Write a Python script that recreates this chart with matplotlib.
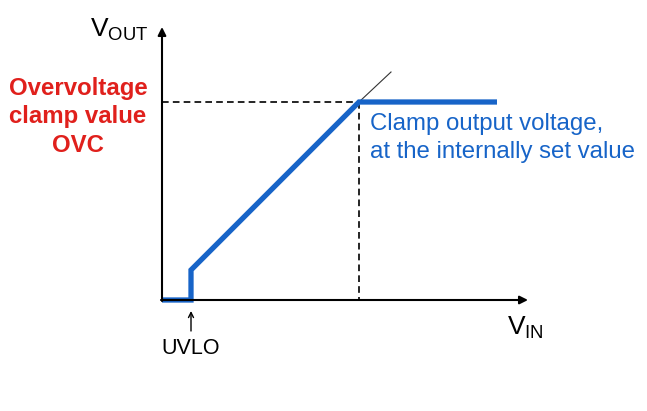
import matplotlib
matplotlib.use("Agg")
import matplotlib.pyplot as plt

# Характеристика: V_IN -> V_OUT (условные единицы)
vin = [0, 29, 29, 197, 335]
vout = [0, 0, 30, 198, 198]
ideal_vin = [197, 229]
ideal_vout = [198, 228]
ovc_level = 198
clamp_vin = 197
uvlo_vin = 29

BLUE = "#1764c8"
RED = "#e0201c"

plt.rcParams["font.family"] = ["Liberation Sans", "DejaVu Sans"]

fig = plt.figure(figsize=(6.47, 4.11), dpi=100)
ax = fig.add_axes([0, 0, 1, 1])
ax.set_xlim(-162, 485)
ax.set_ylim(-111, 300)
ax.axis("off")

# оси со стрелками
ax.annotate("", xy=(0, 273), xytext=(0, -1),
            arrowprops=dict(arrowstyle="-|>", lw=1.5, color="black",
                            mutation_scale=12, shrinkA=0, shrinkB=0))
ax.annotate("", xy=(366, 0), xytext=(-1, 0),
            arrowprops=dict(arrowstyle="-|>", lw=1.5, color="black",
                            mutation_scale=12, shrinkA=0, shrinkB=0))

# пунктир до точки ограничения
ax.plot([0, clamp_vin], [ovc_level, ovc_level], ls=(0, (4, 2.5)), lw=1.2, color="black")
ax.plot([clamp_vin, clamp_vin], [ovc_level, 0], ls=(0, (4, 2.5)), lw=1.2, color="black")

# продолжение без ограничения
ax.plot(ideal_vin, ideal_vout, lw=0.8, color="#333333")

ax.plot(vin, vout, lw=3.8, color=BLUE, solid_joinstyle="miter", solid_capstyle="butt")

ax.text(-14, 270, "V$_{\\mathregular{OUT}}$", fontsize=19, ha="right", va="center")
ax.text(363, -28, "V$_{\\mathregular{IN}}$", fontsize=19, ha="center", va="center")

ax.text(-84, 183, "Overvoltage\nclamp value\nOVC", fontsize=17.3, fontweight="bold",
        color=RED, ha="center", va="center", linespacing=1.33)

ax.text(208, 162, "Clamp output voltage,\nat the internally set value", fontsize=17.3,
        color=BLUE, ha="left", va="center", linespacing=1.32)

# стрелка UVLO
ax.annotate("", xy=(uvlo_vin, -11), xytext=(uvlo_vin, -31),
            arrowprops=dict(arrowstyle="->", lw=1.0, color="black",
                            mutation_scale=9, shrinkA=0, shrinkB=0))
ax.text(uvlo_vin, -48, "UVLO", fontsize=15.5, ha="center", va="center")

fig.savefig("out.png", dpi=100)
